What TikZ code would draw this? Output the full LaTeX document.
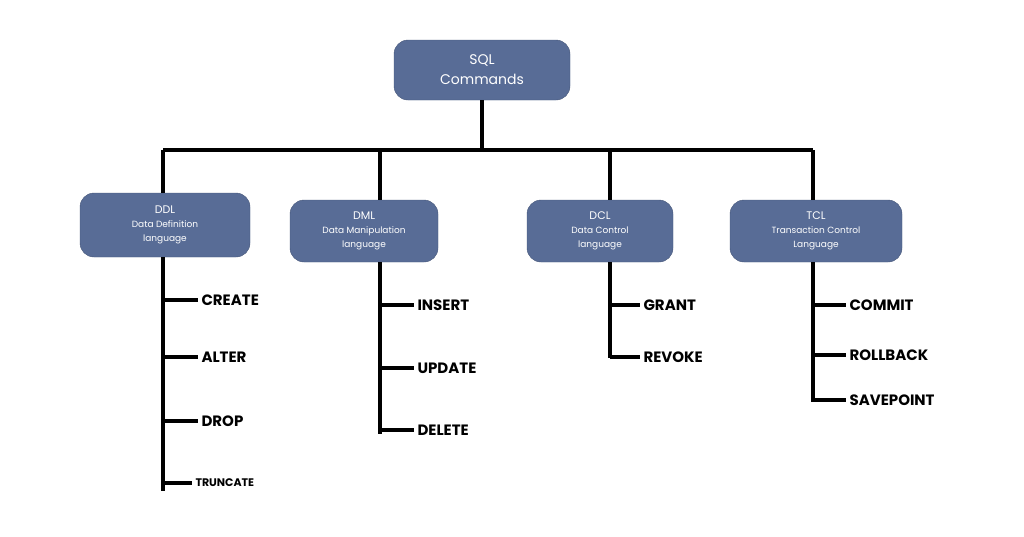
\documentclass[tikz,border=0pt]{standalone}
\usepackage{fontspec}
\setmainfont{Poppins}
\definecolor{boxcolor}{rgb}{0.345, 0.424, 0.588}
\tikzset{
  box/.style={draw=boxcolor!80!black, fill=boxcolor, rounded corners=14pt, text=white, align=center, inner sep=0pt},
  line/.style={line width=3.2pt, black},
  item/.style={anchor=west, font=\bfseries\fontsize{15}{18}\selectfont}
}
\begin{document}
\begin{tikzpicture}[x=1pt,y=-1pt]
\useasboundingbox (0,0) rectangle (1024,536);
% root
\node[box, minimum width=176pt, minimum height=60pt, font=\fontsize{14}{20}\selectfont] (sql) at (482,70) {SQL\\Commands};
% groups
\node[box, minimum width=170pt, minimum height=64pt, font=\fontsize{9}{14}\selectfont] (ddl) at (165,225) {{\fontsize{11}{14}\selectfont DDL}\\Data Definition\\language};
\node[box, minimum width=148pt, minimum height=62pt, font=\fontsize{9}{14}\selectfont] (dml) at (364,231) {{\fontsize{11}{14}\selectfont DML}\\Data Manipulation\\language};
\node[box, minimum width=146pt, minimum height=62pt, font=\fontsize{9}{14}\selectfont] (dcl) at (600,231) {{\fontsize{11}{14}\selectfont DCL}\\Data Control\\language};
\node[box, minimum width=172pt, minimum height=62pt, font=\fontsize{9}{14}\selectfont] (tcl) at (816,231) {{\fontsize{11}{14}\selectfont TCL}\\Transaction Control\\Language};
% bus
\coordinate (hub) at (482,150);
\coordinate (bl) at (163,150);
\coordinate (br) at (813,150);
\draw[line] (sql.south) -- (hub);
\draw[line] (bl) -- (br);
\draw[line] (bl) -- (bl |- ddl.north);
\draw[line] (380,150) coordinate (dmltop) -- (dmltop |- dml.north);
\draw[line] (610,150) coordinate (dcltop) -- (dcltop |- dcl.north);
\draw[line] (br) -- (br |- tcl.north);
% DDL
\coordinate (ddlend) at (163,491);
\draw[line] (bl |- ddl.south) -- (ddlend);
\foreach \y/\t/\n in {300/CREATE/create, 357/ALTER/alter, 421/DROP/drop} {
  \coordinate (\n tip) at (163,\y);
  \node[item] (\n) at (198,\y) {\t};
  \draw[line] (\n tip) -- (\n.west);
}
\coordinate (truncatetip) at (163,483);
\node[item, font=\bfseries\fontsize{11}{14}\selectfont] (truncate) at (192,483) {TRUNCATE};
\draw[line] (truncatetip) -- (truncate.west);
% DML
\coordinate (dmlend) at (380,434);
\draw[line] (dmltop |- dml.south) -- (dmlend);
\foreach \y/\t/\n in {305/INSERT/insert, 368/UPDATE/update, 430/DELETE/delete} {
  \coordinate (\n tip) at (380,\y);
  \node[item] (\n) at (414,\y) {\t};
  \draw[line] (\n tip) -- (\n.west);
}
% DCL
\coordinate (dclend) at (610,358);
\draw[line] (dcltop |- dcl.south) -- (dclend);
\foreach \y/\t/\n in {305/GRANT/grant, 357/REVOKE/revoke} {
  \coordinate (\n tip) at (610,\y);
  \node[item] (\n) at (640,\y) {\t};
  \draw[line] (\n tip) -- (\n.west);
}
% TCL
\coordinate (tclend) at (813,402);
\draw[line] (br |- tcl.south) -- (tclend);
\foreach \y/\t/\n in {305/COMMIT/commit, 355/ROLLBACK/rollback, 400/SAVEPOINT/savepoint} {
  \coordinate (\n tip) at (813,\y);
  \node[item] (\n) at (846,\y) {\t};
  \draw[line] (\n tip) -- (\n.west);
}
\end{tikzpicture}
\end{document}
